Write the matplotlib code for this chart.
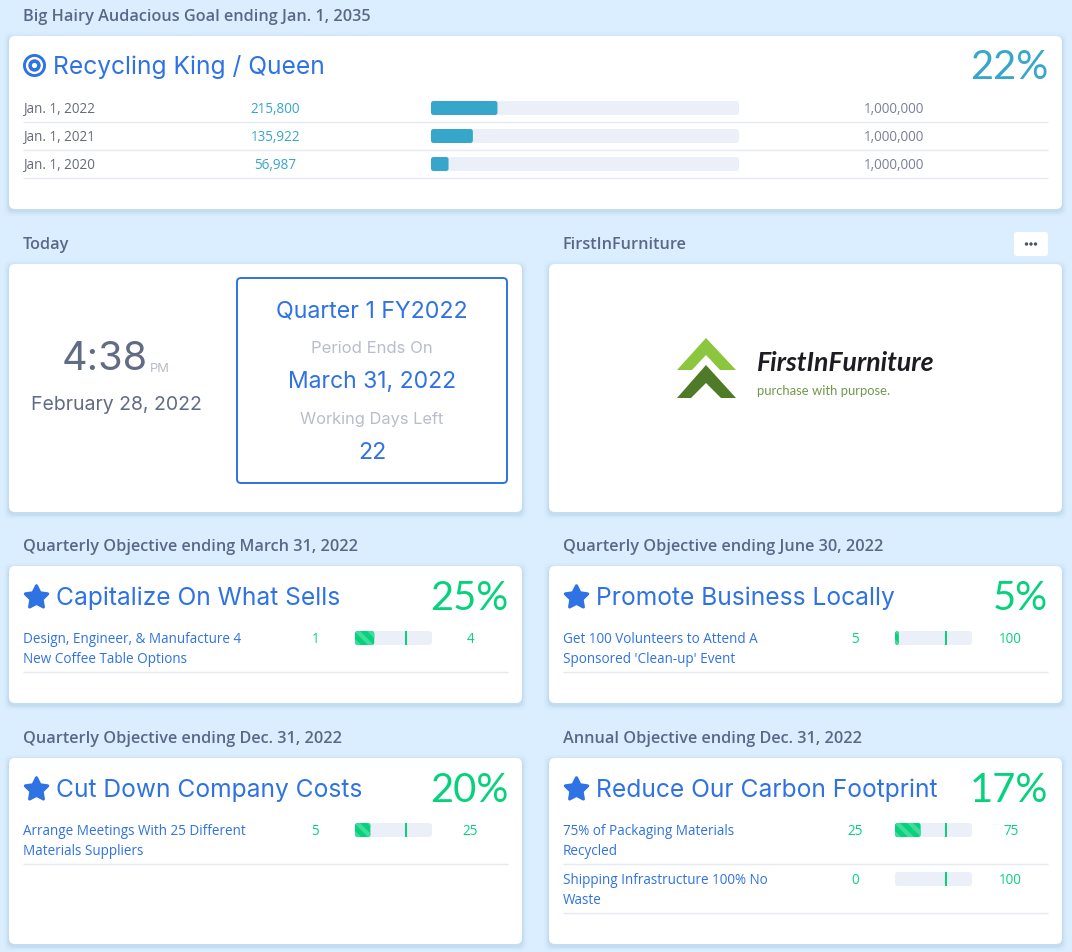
"""Goals dashboard redrawn in pixel coordinates."""

import matplotlib
matplotlib.use("Agg")
import matplotlib.pyplot as plt
from matplotlib.patches import FancyBboxPatch, Rectangle, Polygon, Circle
from matplotlib.path import Path

# Data
goal_header = "Big Hairy Audacious Goal ending Jan. 1, 2035"
goal_name = "Recycling King / Queen"
goal_pct = "22%"
goal_dates = ["Jan. 1, 2022", "Jan. 1, 2021", "Jan. 1, 2020"]
goal_values = [215800, 135922, 56987]
goal_targets = [1000000, 1000000, 1000000]

time_text = "4:38"
ampm_text = "PM"
today_text = "February 28, 2022"
quarter_text = "Quarter 1 FY2022"
period_label = "Period Ends On"
period_end = "March 31, 2022"
days_label = "Working Days Left"
days_left = "22"

company = "FirstInFurniture"
tagline = "purchase with purpose."

headers = ["Quarterly Objective ending March 31, 2022",
           "Quarterly Objective ending June 30, 2022",
           "Quarterly Objective ending Dec. 31, 2022",
           "Annual Objective ending Dec. 31, 2022"]
names = ["Capitalize On What Sells", "Promote Business Locally",
         "Cut Down Company Costs", "Reduce Our Carbon Footprint"]
percents = ["25%", "5%", "20%", "17%"]
kr_labels = [[["Design, Engineer, & Manufacture 4", "New Coffee Table Options"]],
             [["Get 100 Volunteers to Attend A", "Sponsored 'Clean-up' Event"]],
             [["Arrange Meetings With 25 Different", "Materials Suppliers"]],
             [["75% of Packaging Materials", "Recycled"],
              ["Shipping Infrastructure 100% No", "Waste"]]]
kr_values = [[1], [5], [5], [25, 0]]
kr_targets = [[4], [100], [25], [75, 100]]
time_elapsed = 0.66

# Colours
BG = "#daeeff"
BLUE = "#2f72e4"
TEAL = "#36a7cb"
GREEN = "#06d27c"
HEAD = "#5b6788"
GREY = "#666b78"
SLATE = "#626b84"
LIGHT = "#b9bdcb"
RULE = "#e5e8ee"
TRACK = "#ebf0f8"

BODY = "Open Sans"
TITLE = "Inter"
PCT = "Lato"

fig = plt.figure(figsize=(10.72, 9.52), dpi=100, facecolor=BG)
ax = fig.add_axes([0, 0, 1, 1])
ax.set_xlim(0, 1072)
ax.set_ylim(952, 0)
ax.axis("off")


def card(x0, y0, x1, y1):
    # shadow then white box
    for grow, alpha in [(5, 0.03), (3, 0.05), (1.5, 0.08)]:
        ax.add_patch(FancyBboxPatch((x0 - grow, y0 - grow + 2), x1 - x0 + 2 * grow, y1 - y0 + 2 * grow,
                                    boxstyle="round,pad=0,rounding_size=7", fc="#5a7fa8", ec="none",
                                    alpha=alpha, zorder=1))
    ax.add_patch(FancyBboxPatch((x0, y0), x1 - x0, y1 - y0, boxstyle="round,pad=0,rounding_size=6",
                                fc="white", ec="none", zorder=2))


def label(x, y, s, size, color, ha="left", family=BODY, weight="normal", style="normal"):
    ax.text(x, y + 1.3, s, fontsize=size, color=color, ha=ha, va="center", family=family,
            fontweight=weight, fontstyle=style, zorder=5)


def rule(x0, x1, y):
    ax.plot([x0, x1], [y, y], color=RULE, lw=1, zorder=3, solid_capstyle="butt")


def track(x0, x1, y, height=14):
    ax.add_patch(FancyBboxPatch((x0, y - height / 2), x1 - x0, height,
                                boxstyle="round,pad=0,rounding_size=3", fc=TRACK, ec="none", zorder=3))


def fill_bar(x0, x1, y, frac, color, striped=False, height=14):
    if frac <= 0:
        return
    w = (x1 - x0) * frac
    bar = FancyBboxPatch((x0, y - height / 2), w, height, boxstyle="round,pad=0,rounding_size=2.5",
                         fc=color, ec="none", zorder=4)
    ax.add_patch(bar)
    if striped:
        # diagonal lighter bands inside the bar
        off = -height
        while off < w:
            band = Polygon([(x0 + off, y - height / 2), (x0 + off + 6, y - height / 2),
                            (x0 + off + 6 + height, y + height / 2), (x0 + off + height, y + height / 2)],
                           fc="#3fdc9c", ec="none", zorder=4.5)
            ax.add_patch(band)
            band.set_clip_path(bar)
            off += 13


def star(x, y):
    ax.plot([x], [y], marker=Path.unit_regular_star(5, 0.5), ms=17, mfc=BLUE, mec=BLUE, mew=2.2,
            zorder=5, linestyle="none")


# Section headers
label(23, 16, goal_header, 11.7, HEAD, weight=600)
label(23, 244, "Today", 11.7, HEAD, weight=600)
label(563, 244, company, 11.7, HEAD, weight=600)

# Goal card
card(9, 36, 1062, 209)
for radius, colour in [(11.5, BLUE), (8.6, "white"), (6.2, BLUE), (2.6, "white")]:
    ax.add_patch(Circle((34.5, 65.5), radius, fc=colour, ec="none", zorder=5))
label(53, 66, goal_name, 17.7, BLUE, family=TITLE)
label(1048, 66, goal_pct, 28.7, TEAL, ha="right", family=PCT)
for i, date in enumerate(goal_dates):
    y = 108 + 28 * i
    label(23, y, date, 9.75, GREY)
    label(275.5, y, f"{goal_values[i]:,}", 9.75, TEAL, ha="center")
    track(431, 739, y)
    fill_bar(431, 739, y, goal_values[i] / goal_targets[i], TEAL)
    label(894, y, f"{goal_targets[i]:,}", 9.75, "#7b7f98", ha="center")
    rule(23, 1048, y + 14)

# Today card
card(9, 264, 522, 512)
label(105, 358, time_text, 28.5, SLATE, ha="center", family=TITLE)
label(160, 368, ampm_text, 9.3, LIGHT, ha="center", family=TITLE)
label(116, 404, today_text, 14, SLATE, ha="center", family=TITLE)
ax.add_patch(FancyBboxPatch((237, 278), 270, 205, boxstyle="round,pad=0,rounding_size=4",
                            fc="white", ec=BLUE, lw=1.4, zorder=3))
label(372, 310, quarter_text, 16.7, BLUE, ha="center", family=TITLE)
label(372, 347, period_label, 12, LIGHT, ha="center", family=TITLE)
label(372, 381, period_end, 16.5, BLUE, ha="center", family=TITLE)
label(372, 418, days_label, 11.8, LIGHT, ha="center", family=TITLE)
label(372, 452, days_left, 16.7, BLUE, ha="center", family=TITLE)

# Logo card
card(549, 264, 1062, 512)
ax.add_patch(Polygon([(706, 338), (736, 370), (720, 370), (706, 355), (692, 370), (677, 370)],
                     fc="#8cc63f", ec="none", zorder=5))
ax.add_patch(Polygon([(706, 365), (736, 398), (721, 398), (706, 383), (691, 398), (677, 398)],
                     fc="#4f7a28", ec="none", zorder=5))
label(757, 362, company, 19.2, "#1c1c22", family="Lato", weight="bold", style="italic")
label(757, 390, tagline, 9.4, "#6f9a4e", family="Lato")

# Menu button
ax.add_patch(FancyBboxPatch((1014, 232), 34, 24, boxstyle="round,pad=0,rounding_size=3",
                            fc="white", ec="none", zorder=2))
for dx in [-4.5, 0, 4.5]:
    ax.add_patch(Circle((1031 + dx, 244), 1.7, fc="#4d5260", ec="none", zorder=5))

# Objective cards
card_boxes = [(9, 566, 522, 703), (549, 566, 1062, 703), (9, 758, 522, 944), (549, 758, 1062, 944)]
for n, box in enumerate(card_boxes):
    x0, y0, x1, y1 = box
    left = x0 + 14
    right = x1 - 14
    label(left, y0 - 20, headers[n], 11.7, HEAD, weight=600)
    card(x0, y0, x1, y1)
    star(left + 12.5, y0 + 30.5)
    label(left + 33, y0 + 31, names[n], 17.7, BLUE, family=TITLE)
    label(right, y0 + 31, percents[n], 28.7, GREEN, ha="right", family=PCT)
    y = y0 + 72
    for k, lines in enumerate(kr_labels[n]):
        label(left, y, lines[0], 9.75, BLUE)
        label(left, y + 20.5, lines[1], 9.75, BLUE)
        label(x0 + 306.5, y, str(kr_values[n][k]), 9.75, GREEN, ha="center")
        bx0, bx1 = x0 + 346, x0 + 423
        track(bx0, bx1, y)
        fill_bar(bx0, bx1, y, kr_values[n][k] / kr_targets[n][k], GREEN, striped=True)
        mark = bx0 + (bx1 - bx0) * time_elapsed
        ax.add_patch(Rectangle((mark - 1.2, y - 7), 2.4, 14, fc=GREEN, ec="none", zorder=6))
        label(x0 + 461.5, y, str(kr_targets[n][k]), 9.75, GREEN, ha="center")
        rule(left, right, y + 34)
        y += 49

fig.savefig("out.png", dpi=100, facecolor=BG)
